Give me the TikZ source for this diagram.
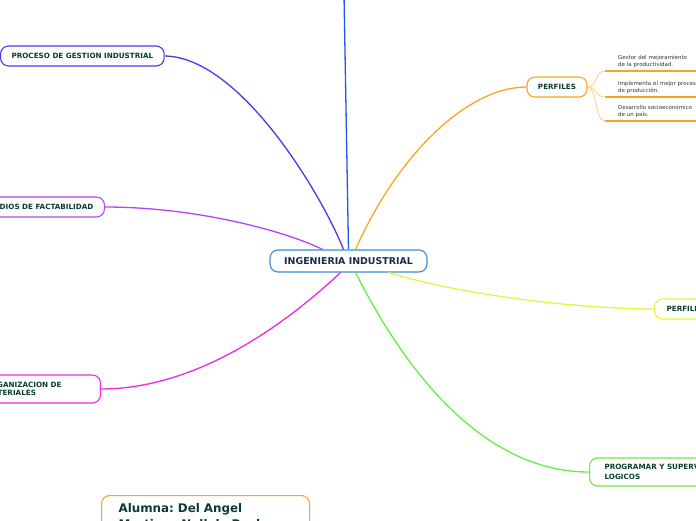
\documentclass[tikz,border=0pt]{standalone}
\usepackage{fontspec}
\setmainfont{DejaVu Sans}
\usetikzlibrary{positioning}

\definecolor{txtgreen}{HTML}{0B3D2E}
\definecolor{txtnavy}{HTML}{1B2A4E}
\definecolor{cHub}{HTML}{3A8CD0}
\definecolor{cViolet}{HTML}{5533EE}
\definecolor{cPurple}{HTML}{B444F0}
\definecolor{cMagenta}{HTML}{F028E0}
\definecolor{cBlue}{HTML}{2255EE}
\definecolor{cOrange}{HTML}{F5A623}
\definecolor{cLightOr}{HTML}{FBD28A}
\definecolor{cYellow}{HTML}{E4F542}
\definecolor{cGreen}{HTML}{66EE44}

\begin{document}
\frenchspacing
\begin{tikzpicture}[x=1pt,y=-1pt,
    branch/.style={draw, rounded corners=8pt, line width=1.1pt, fill=white,
        text=txtgreen, font=\fontsize{7.2}{9}\selectfont\bfseries,
        minimum height=20pt, inner xsep=11pt, align=left},
    link/.style={line width=1.3pt},
    item/.style={font=\fontsize{5.5}{7}\selectfont, text=black!80,
        align=left, text width=90pt, inner xsep=13pt, inner ysep=2.7pt,
        anchor=south west}]
                \useasboundingbox (0,0) rectangle (696,520);
                \clip (0,0) rectangle (696,520);

                % central node
                \node[draw=cHub, rounded corners=8pt, line width=1.1pt, fill=white,
                    text=txtnavy, font=\fontsize{9.4}{11}\selectfont\bfseries,
                    minimum width=157pt, minimum height=22pt] (hub) at (348.5,261) {INGENIERIA INDUSTRIAL};
                \coordinate (topend) at (344,-5);

                % branches
                \node[branch, draw=cViolet, anchor=west] (gestion) at (0,56) {PROCESO DE GESTION INDUSTRIAL};
                \node[branch, draw=cPurple, anchor=east] (factib) at (105,207) {ESTUDIOS DE FACTABILIDAD};
                \node[branch, draw=cMagenta, anchor=east, text width=104pt, minimum height=28pt,
                    font=\fontsize{7.2}{8.5}\selectfont\bfseries] (organiz) at (101,389) {ORGANIZACION DE\\MATERIALES};
                \node[branch, draw=cOrange, anchor=center] (perfiles) at (557,87) {PERFILES};
                \node[branch, draw=cYellow, anchor=west, inner xsep=12pt] (perfil) at (654,309) {PERFILES};
                \node[branch, draw=cGreen, anchor=west, inner xsep=15pt, minimum height=28pt,
                    font=\fontsize{7.2}{9.5}\selectfont\bfseries] (programar) at (589,472) {PROGRAMAR Y SUPERVISAR SISTEMAS\\LOGICOS};
                \node[branch, draw=cOrange, anchor=north west, inner xsep=17pt, inner ysep=8pt,
                    text width=174pt, font=\fontsize{11.9}{16}\selectfont\bfseries] (alumna) at (101,495) {Alumna: Del Angel\\Martinez Nallely Paola};

                % sub-items of PERFILES
                \node[item] (gestor) at (605,71) {Gestor del mejoramiento\\de la productividad.};
                \node[item] (implementa) at (605,97) {Implementa el mejor proceso\\de producción.};
                \node[item] (desarrollo) at (605,121) {Desarrollo socioeconómico\\de un país.};
                \foreach \n in {gestor,implementa,desarrollo}
                    \draw[cOrange, line width=1.1pt] (\n.south west) -- (\n.south east);

                % connectors
                \draw[link, cBlue] (topend) -- (hub.north);
                \draw[link, cViolet] (gestion.east) .. controls (240,57) and (322,195) .. ([xshift=-5pt]hub.north);
                \draw[link, cPurple] (factib.east) .. controls (200,207) and (290,233) .. ([xshift=-26pt]hub.north);
                \draw[link, cMagenta] (organiz.east) .. controls (200,389) and (290,320) .. ([xshift=-8pt]hub.south);
                \draw[link, cOrange] ([xshift=7pt]hub.north) .. controls (400,150) and (470,87) .. (perfiles.west);
                \draw[link, cYellow] ([xshift=40pt]hub.south) .. controls (480,300) and (600,309) .. (perfil.west);
                \draw[link, cGreen] ([xshift=7pt]hub.south) .. controls (420,400) and (500,472) .. (programar.west);
                \foreach \n/\y in {gestor/71,implementa/97,desarrollo/121}
                    \draw[cLightOr, line width=0.8pt] (perfiles.east) .. controls (597,87) and (595,\y) .. (\n.south west);
            \end{tikzpicture}
\end{document}
